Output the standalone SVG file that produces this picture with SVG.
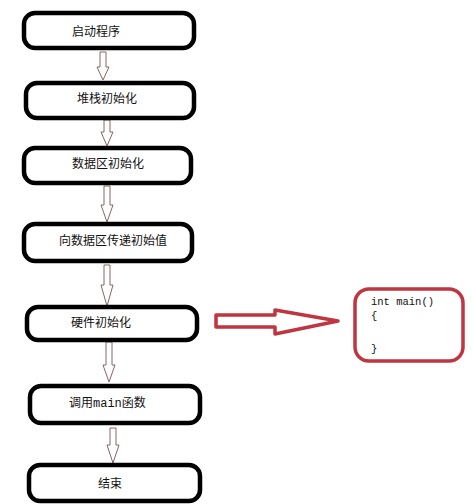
<svg xmlns="http://www.w3.org/2000/svg" width="474" height="504" viewBox="0 0 474 504">
<style>
.box{fill:#fff;stroke:#000;stroke-width:4.5}
.lbl{font-family:"Noto Sans CJK SC","Noto Sans",sans-serif;font-size:12px;fill:#111}
.mono{font-family:"Liberation Mono",monospace}
.arr{fill:#fff;stroke:#8a6464;stroke-width:1}
.red{fill:#fff;stroke:#bf3540;stroke-width:3.5;stroke-linejoin:round}
.code{font-family:"Liberation Mono",monospace;font-size:10.5px;fill:#111}
</style>
<rect width="474" height="504" fill="#fff"/>
<g id="connectors">
<polygon class="arr" points="100,52 106,52 106,67 109,67 103,80 97,67 100,67"/>
<polygon class="arr" points="104,120 110,120 110,132 113,132 107,146 101,132 104,132"/>
<polygon class="arr" points="104,186 110,186 110,205 113,205 107,222 101,205 104,205"/>
<polygon class="arr" points="104,265 110,265 110,285 113,285 107,306 101,285 104,285"/>
<polygon class="arr" points="106,342 112,342 112,365 115,365 109,382 103,365 106,365"/>
<polygon class="arr" points="110,428 116,428 116,445 119,445 113,463 107,445 110,445"/>
<polygon class="red" points="216,315 275,315 275,310 338,321 275,334 275,327 216,327"/>
</g>
<g id="n1"><rect class="box" x="24" y="13" width="170" height="35" rx="11"/><text class="lbl" x="72" y="36">启动程序</text></g>
<g id="n2"><rect class="box" x="26" y="83" width="168" height="35" rx="11"/><text class="lbl" x="77" y="103">堆栈初始化</text></g>
<g id="n3"><rect class="box" x="24" y="148" width="167" height="35" rx="11"/><text class="lbl" x="72" y="168">数据区初始化</text></g>
<g id="n4"><rect class="box" x="24" y="224" width="168" height="37" rx="11"/><text class="lbl" x="59" y="245">向数据区传递初始值</text></g>
<g id="n5"><rect class="box" x="27" y="307" width="170" height="33" rx="11"/><text class="lbl" x="71" y="327">硬件初始化</text></g>
<g id="n6"><rect class="box" x="30" y="386" width="170" height="37" rx="11"/><text class="lbl" x="69" y="407">调用<tspan class="mono">main</tspan>函数</text></g>
<g id="n7"><rect class="box" x="29" y="465" width="171" height="36" rx="11"/><text class="lbl" x="98" y="488">结束</text></g>
<g id="code">
<rect class="red" x="355" y="289" width="108" height="72" rx="14" stroke-width="4"/>
<text class="code" x="371" y="305">int main()</text>
<text class="code" x="371" y="319">{</text>
<text class="code" x="371" y="352">}</text>
</g>
</svg>
